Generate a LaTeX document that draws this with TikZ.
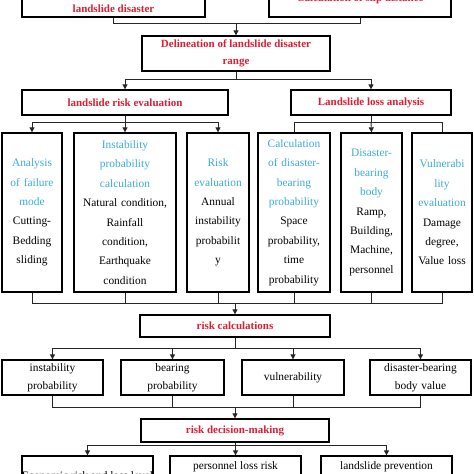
\documentclass[tikz,border=0pt]{standalone}
\usepackage{fontspec}
\setmainfont{Liberation Serif}
\usetikzlibrary{arrows.meta}
\definecolor{tred}{RGB}{218,32,52}
\definecolor{tblue}{RGB}{60,172,215}
\begin{document}
\begin{tikzpicture}[x=1pt,y=-1pt,
  box/.style={draw=black,line width=1.3pt,inner sep=0pt,align=center},
  redt/.style={font=\fontsize{11}{17}\selectfont\bfseries,text=tred},
  big/.style={font=\fontsize{11.4}{19.4}\selectfont},
  mid/.style={font=\fontsize{11.4}{18}\selectfont},
  con/.style={line width=0.9pt,draw=black!85},
  arr/.style={con,-{Triangle[length=5pt,width=5pt]}}]
\clip (0,0) rectangle (474,474);
\fill[white] (0,0) rectangle (474,474);
% top boxes
\node[box,minimum width=183pt,minimum height=40pt] (tl) at (113.5,-3) {};
\node[redt] (tlt) at (113.5,8.5) {landslide disaster};
\node[box,minimum width=182pt,minimum height=40pt] (tr) at (360,-3) {};
\node[redt] (trt) at (360,-1) {Calculation of slip distance};
% delineation
\node[box,redt,minimum width=188pt,minimum height=35pt] (del) at (236,53.5) {Delineation of landslide disaster\\range};
% level 2
\node[box,redt,minimum width=206pt,minimum height=25pt] (lre) at (125,102.5) {landslide risk evaluation};
\node[box,redt,minimum width=160pt,minimum height=25pt] (lla) at (371,102.5) {Landslide loss analysis};
% level 3
\node[box,big,text width=58pt,minimum width=60pt,minimum height=159pt] (b1) at (32,212.5)
 {\color{tblue}Analysis\\of failure\\mode\\\color{black}Cutting-\\Bedding\\sliding};
\node[box,big,text width=100pt,minimum width=102pt,minimum height=159pt] (b2) at (125,212.5)
 {\color{tblue}Instability\\probability\\calculation\\\color{black}Natural condition,\\Rainfall\\condition,\\Earthquake\\condition};
\node[box,big,text width=60pt,minimum width=62pt,minimum height=159pt] (b3) at (218,212.5)
 {\color{tblue}Risk\\evaluation\\\color{black}Annual\\instability\\probabilit\\y};
\node[box,big,text width=70pt,minimum width=72pt,minimum height=159pt] (b4) at (294,212.5)
 {\color{tblue}Calculation\\of disaster-\\bearing\\probability\\\color{black}Space\\probability,\\time\\probability};
\node[box,big,text width=59pt,minimum width=61pt,minimum height=159pt] (b5) at (371.5,212.5)
 {\color{tblue}Disaster-\\bearing\\body\\\color{black}Ramp,\\Building,\\Machine,\\personnel};
\node[box,big,text width=58pt,minimum width=60pt,minimum height=159pt] (b6) at (442,212.5)
 {\color{tblue}Vulnerabi\\lity\\evaluation\\\color{black}Damage\\degree,\\Value loss};
% risk calculations
\node[box,redt,minimum width=190pt,minimum height=22pt] (rc) at (235,326) {risk calculations};
% level 4
\node[box,mid,text width=99pt,minimum width=101pt,minimum height=35pt] (c1) at (52.5,377.5) {instability\\probability};
\node[box,mid,text width=101pt,minimum width=103pt,minimum height=35pt] (c2) at (172.5,377.5) {bearing\\probability};
\node[box,mid,text width=100pt,minimum width=102pt,minimum height=35pt] (c3) at (293,377.5) {vulnerability};
\node[box,mid,text width=99pt,minimum width=101pt,minimum height=35pt] (c4) at (420.5,377.5) {disaster-bearing\\body value};
% risk decision-making
\node[box,redt,minimum width=188pt,minimum height=23pt] (rd) at (235,430.5) {risk decision-making};
% bottom row
\node[box,minimum width=131pt,minimum height=44pt] (d1) at (87.5,478) {};
\node[box,minimum width=131pt,minimum height=44pt] (d2) at (235.5,478) {};
\node[box,minimum width=131pt,minimum height=44pt] (d3) at (386.5,478) {};
\node[mid] (d1t) at (87.5,476) {Economic risk and loss level};
\node[mid] (d2t) at (235.5,466.5) {personnel loss risk};
\node[mid] (d3t) at (386.5,466.5) {landslide prevention};
% junctions
\coordinate (j1) at (236,23);
\coordinate (j2) at (236,79);
\coordinate (j3) at (125,122);
\coordinate (j4) at (371,122);
\coordinate (j5) at (235,303);
\coordinate (j6) at (235,348);
\coordinate (j7) at (235,407);
\coordinate (j8) at (235,445);
% connectors
\draw[con] (tl.south) |- (j1);
\draw[con] (tr.south) |- (j1);
\draw[arr] (j1) -- (del.north);
\draw[con] (del.south) -- (j2);
\draw[arr] (j2) -| (lre.north);
\draw[arr] (j2) -| (lla.north);
\draw[con] (lre.south) -- (j3);
\draw[arr] (j3) -| (b1.north);
\draw[arr] (j3) -- (b2.north);
\draw[arr] (j3) -| (b3.north);
\draw[con] (lla.south) -- (j4);
\draw[arr] (j4) -- (b5.north);
\draw[con] (j4) -| (b4.north);
\draw[con] (j4) -| (b6.north);
\foreach \n in {b1,b2,b3,b4,b5,b6} \draw[con] (\n.south) |- (j5);
\draw[arr] (j5) -- (rc.north);
\draw[con] (rc.south) -- (j6);
\foreach \n in {c1,c2,c3,c4} \draw[arr] (j6) -| (\n.north);
\foreach \n in {c1,c2,c3,c4} \draw[con] (\n.south) |- (j7);
\draw[arr] (j7) -- (rd.north);
\draw[con] (rd.south) -- (j8);
\foreach \n in {d1,d2,d3} \draw[arr] (j8) -| (\n.north);
\end{tikzpicture}
\end{document}
